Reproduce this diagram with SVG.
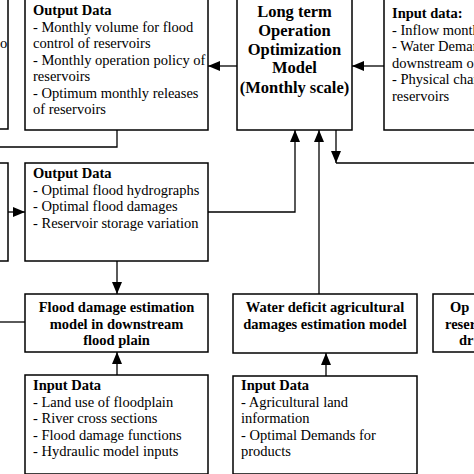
<svg xmlns="http://www.w3.org/2000/svg" width="474" height="474" viewBox="0 0 474 474">
<defs>
<style>
.box{fill:#fff;stroke:#000;stroke-width:1.5}
.t{font-family:"Liberation Serif","Times New Roman",serif;font-size:14.5px;fill:#000}
.b{font-weight:bold}
.big{font-size:16.5px;font-weight:bold}
.c{text-anchor:middle}
.ln{fill:none;stroke:#000;stroke-width:1.3}
</style>
<marker id="ah" viewBox="0 0 12 10" refX="12" refY="5" markerWidth="12" markerHeight="10" markerUnits="userSpaceOnUse" orient="auto"><path d="M0,0 L12,5 L0,10 z" fill="#000"/></marker>
</defs>
<rect width="474" height="474" fill="#fff"/>
<g id="connectors">
<line class="ln" x1="237" y1="66" x2="208" y2="66" marker-end="url(#ah)"/>
<line class="ln" x1="384" y1="66" x2="352" y2="66" marker-end="url(#ah)"/>
<polyline class="ln" points="117,130 117,147 0,147"/>
<line class="ln" x1="8" y1="212" x2="25" y2="212" marker-end="url(#ah)"/>
<polyline class="ln" points="208,212 295,212 295,130" marker-end="url(#ah)"/>
<line class="ln" x1="319" y1="294" x2="319" y2="130" marker-end="url(#ah)"/>
<line class="ln" x1="336" y1="130" x2="336" y2="163" marker-end="url(#ah)"/>
<line class="ln" x1="336" y1="163" x2="474" y2="163"/>
<line class="ln" x1="117" y1="261" x2="117" y2="294" marker-end="url(#ah)"/>
<line class="ln" x1="25" y1="322" x2="0" y2="322"/>
<line class="ln" x1="117" y1="375" x2="117" y2="352" marker-end="url(#ah)"/>
<line class="ln" x1="326" y1="376" x2="326" y2="353" marker-end="url(#ah)"/>
</g>
<g id="left-top">
<rect class="box" x="-20" y="-10" width="28" height="139"/>
<text class="t" x="0" y="48">o</text>
</g>
<g id="output-monthly">
<rect class="box" x="25" y="-10" width="183" height="140"/>
<text class="t b" x="33" y="15">Output Data</text>
<text class="t" x="33" y="31.5">- Monthly volume for flood</text>
<text class="t" x="33" y="48">control of reservoirs</text>
<text class="t" x="33" y="64.5">- Monthly operation policy of</text>
<text class="t" x="33" y="81">reservoirs</text>
<text class="t" x="33" y="97.5">- Optimum monthly releases</text>
<text class="t" x="33" y="114">of reservoirs</text>
</g>
<g id="long-term-model">
<rect class="box" x="237" y="-10" width="115" height="140"/>
<text class="t big c" x="294.5" y="16.5">Long term</text>
<text class="t big c" x="294.5" y="35.5">Operation</text>
<text class="t big c" x="294.5" y="54.5">Optimization</text>
<text class="t big c" x="294.5" y="73">Model</text>
<text class="t big c" x="294.5" y="92.5">(Monthly scale)</text>
</g>
<g id="input-monthly">
<rect class="box" x="384" y="-10" width="110" height="140"/>
<text class="t b" x="392" y="18">Input data:</text>
<text class="t" x="392" y="34.5">- Inflow monthly</text>
<text class="t" x="392" y="51">- Water Demands</text>
<text class="t" x="392" y="67.5">downstream of</text>
<text class="t" x="392" y="84">- Physical characteristics</text>
<text class="t" x="392" y="100.5">reservoirs</text>
</g>
<g id="left-mid">
<rect class="box" x="-20" y="163" width="28" height="98"/>
</g>
<g id="output-flood">
<rect class="box" x="25" y="163" width="183" height="98"/>
<text class="t b" x="33" y="178">Output Data</text>
<text class="t" x="33" y="194.5">- Optimal flood hydrographs</text>
<text class="t" x="33" y="211">- Optimal flood damages</text>
<text class="t" x="33" y="227.5">- Reservoir storage variation</text>
</g>
<g id="flood-damage-model">
<rect class="box" x="25" y="294" width="183" height="58"/>
<text class="t b c" x="116.5" y="312">Flood damage estimation</text>
<text class="t b c" x="116.5" y="328.5">model in downstream</text>
<text class="t b c" x="116.5" y="345">flood plain</text>
</g>
<g id="water-deficit-model">
<rect class="box" x="233" y="294" width="184" height="59"/>
<text class="t b c" x="325" y="312">Water deficit agricultural</text>
<text class="t b c" x="325" y="329">damages estimation model</text>
</g>
<g id="right-model">
<rect class="box" x="433" y="294" width="60" height="58"/>
<text class="t b" x="450" y="312">Op</text>
<text class="t b" x="445" y="328.5">reser</text>
<text class="t b" x="459" y="345">dr</text>
</g>
<g id="input-flood">
<rect class="box" x="25" y="375" width="183" height="99"/>
<text class="t b" x="33" y="390">Input Data</text>
<text class="t" x="33" y="406.5">- Land use of floodplain</text>
<text class="t" x="33" y="423">- River cross sections</text>
<text class="t" x="33" y="439.5">- Flood damage functions</text>
<text class="t" x="33" y="456">- Hydraulic model inputs</text>
</g>
<g id="input-agri">
<rect class="box" x="233" y="376" width="184" height="98"/>
<text class="t b" x="241" y="390">Input Data</text>
<text class="t" x="241" y="406.5">- Agricultural land</text>
<text class="t" x="241" y="423">information</text>
<text class="t" x="241" y="439.5">- Optimal Demands for</text>
<text class="t" x="241" y="456">products</text>
</g>
</svg>
